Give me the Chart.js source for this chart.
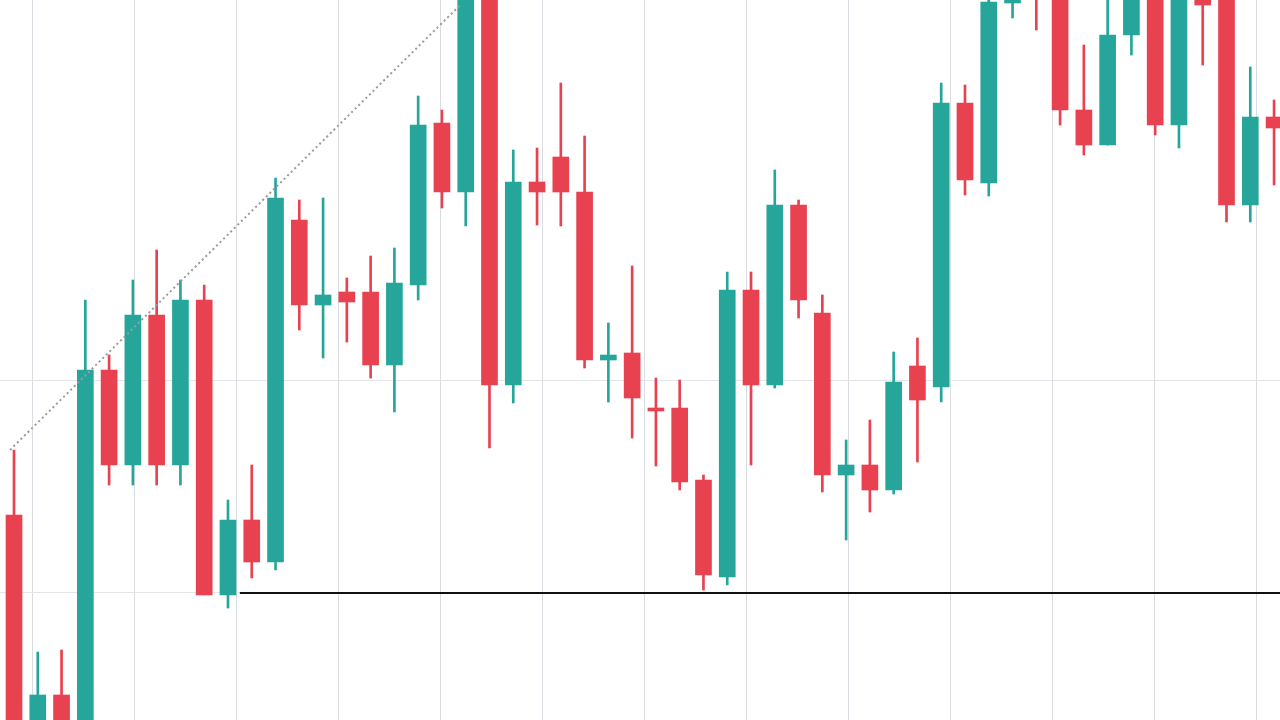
<!DOCTYPE html>
<html>
<head>
<meta charset="utf-8">
<style>
  html, body { margin: 0; padding: 0; background: #ffffff; overflow: hidden; }
  #chart { display: block; }
</style>
<script src="https://cdn.jsdelivr.net/npm/chart.js@4/dist/chart.umd.min.js"></script>
</head>
<body>
<canvas id="chart" width="1280" height="720"></canvas>
<script>
// candle values, one entry per session
var opens  = [205, -20, 25, -20, 350, 255, 405, 255, 420, 125, 200, 158, 500, 415, 428, 428, 355, 435, 597, 528, 740, 335, 538, 563, 528, 360, 367, 312, 312, 240, 143, 430, 335, 515, 407, 245, 255, 230, 354, 333, 617, 537, 717, 780, 740, 610, 575, 685, 740, 595, 740, 740, 515, 603];
var highs  = [270, 68, 70, 420, 365, 440, 470, 440, 435, 220, 255, 542, 520, 522, 442, 464, 472, 624, 610, 760, 760, 570, 572, 637, 584, 397, 454, 342, 340, 245, 448, 448, 550, 520, 425, 280, 300, 368, 382, 637, 635, 730, 760, 790, 760, 675, 760, 760, 760, 760, 760, 760, 653, 620];
var lows   = [-20, -20, -20, -20, 235, 235, 235, 235, 125, 112, 142, 150, 390, 362, 378, 342, 308, 420, 512, 494, 272, 317, 495, 494, 352, 318, 282, 254, 230, 130, 135, 255, 332, 402, 228, 180, 208, 226, 258, 318, 525, 524, 702, 690, 595, 565, 575, 665, 585, 572, 655, 498, 498, 535];
var closes = [-20, 25, -20, 350, 255, 405, 255, 420, 125, 200, 158, 522, 415, 425, 418, 355, 437, 595, 528, 740, 335, 538, 528, 528, 360, 365, 322, 309, 238, 145, 430, 335, 515, 420, 245, 255, 230, 338, 320, 617, 540, 718, 740, 760, 610, 575, 685, 740, 595, 740, 715, 515, 603, 592];

var supportLevel = 127;          // horizontal support line
var supportFrom = 9.5;           // session where the support line starts
var trendLine = [{ x: -0.17, y: 270 }, { x: 18.77, y: 715 }];
var gridPrices = [128, 340];
var gridSessions = [0.76, 5.05, 9.34, 13.63, 17.92, 22.21, 26.5, 30.8, 35.09, 39.38, 43.67, 47.96, 52.25];

var UP = '#26a69a', DOWN = '#e8414f';

var bodies = [], wicks = [], colors = [];
opens.forEach(function(o, i) {
  bodies.push({ x: i, y: [o, closes[i]] });
  wicks.push({ x: i, y: [lows[i], highs[i]] });
  colors.push(closes[i] >= o ? UP : DOWN);
});

new Chart(document.getElementById('chart'), {
  type: 'bar',
  data: {
    datasets: [
      { type: 'line', data: trendLine, borderColor: '#9a9a9a', borderWidth: 2, borderDash: [2, 3], pointRadius: 0, order: 0 },
      { type: 'line', data: [{ x: supportFrom, y: supportLevel }, { x: 56, y: supportLevel }], borderColor: '#111111', borderWidth: 2, pointRadius: 0, order: 0 },
      { data: wicks, backgroundColor: colors, barThickness: 2, grouped: false, order: 2 },
      { data: bodies, backgroundColor: colors, barThickness: 16, grouped: false, order: 1 }
    ]
  },
  options: {
    responsive: false,
    animation: false,
    layout: { padding: 0 },
    plugins: { legend: { display: false }, tooltip: { enabled: false } },
    scales: {
      x: {
        type: 'linear', min: -0.589, max: 53.25, offset: false,
        ticks: { display: false },
        border: { display: false },
        grid: { color: '#d9dce1', lineWidth: 1, drawTicks: false, offset: false },
        afterBuildTicks: function(s) { s.ticks = gridSessions.map(function(v) { return { value: v }; }); }
      },
      y: {
        min: 0, max: 720,
        ticks: { display: false },
        border: { display: false },
        grid: { color: '#e3e5e9', lineWidth: 1, drawTicks: false },
        afterBuildTicks: function(s) { s.ticks = gridPrices.map(function(v) { return { value: v }; }); }
      }
    }
  }
});
</script>
</body>
</html>
